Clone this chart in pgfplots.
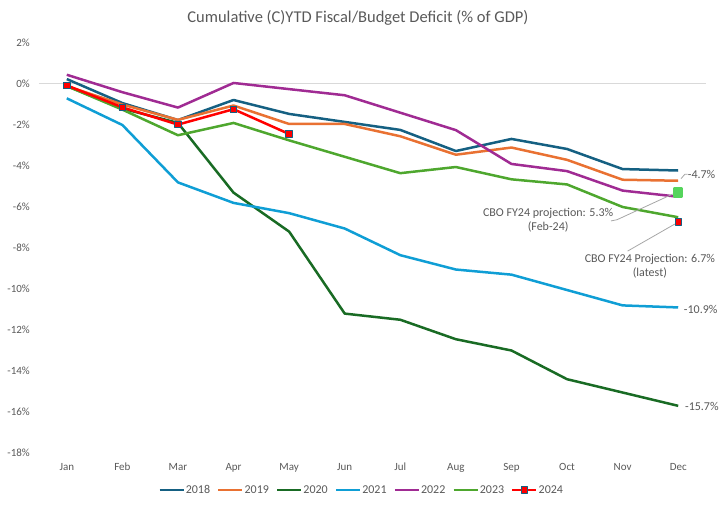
\documentclass[border=0pt]{standalone}
\usepackage{pgfplots}
\pgfplotsset{compat=1.18}
\usepackage{fontspec}
\setmainfont{Carlito}
\definecolor{c18}{HTML}{156082}
\definecolor{c19}{HTML}{E97132}
\definecolor{c20}{HTML}{196B24}
\definecolor{c21}{HTML}{0F9ED5}
\definecolor{c22}{HTML}{A02B93}
\definecolor{c23}{HTML}{4EA72E}
\definecolor{c24}{HTML}{FF0000}
\definecolor{cbo}{HTML}{55D45C}
\definecolor{txt}{HTML}{595959}
\definecolor{lead}{HTML}{A6A6A6}
\definecolor{zero}{HTML}{D9D9D9}
\begin{document}
\begin{tikzpicture}[x=1pt,y=1pt]
\useasboundingbox (0,0) rectangle (719,508);
\node[text=txt, font=\fontsize{16.5}{18}\selectfont] at (358,490) {Cumulative (C)YTD Fiscal/Budget Deficit (\% of GDP)};
\begin{axis}[
  at={(39pt,55pt)}, anchor=south west,
  scale only axis, width=667pt, height=410pt,
  xmin=-0.5, xmax=11.5, ymin=-18, ymax=2,
  axis line style={draw=none},
  major tick length=0pt,
  xtick={0,...,11},
  xticklabels={Jan,Feb,Mar,Apr,May,Jun,Jul,Aug,Sep,Oct,Nov,Dec},
  ytick={-18,-16,...,2},
  yticklabels={-18\%,-16\%,-14\%,-12\%,-10\%,-8\%,-6\%,-4\%,-2\%,0\%,2\%},
  tick label style={font=\fontsize{11}{13}\selectfont, text=txt, inner sep=0pt},
  yticklabel style={xshift=-9pt},
  xticklabel style={yshift=-10pt},
  legend style={at={(axis description cs:0.483,0)}, anchor=center, yshift=-37pt,
    draw=none, fill=none, font=\fontsize{12}{13}\selectfont, text=txt,
    legend columns=7, nodes={inner sep=1pt},
    /tikz/every even column/.append style={column sep=6pt}},
  legend cell align=left,
  legend image code/.code={\draw[mark repeat=2,mark phase=2,#1] plot coordinates {(0pt,0pt) (12pt,0pt) (24pt,0pt)};},
  every axis plot/.append style={line width=2.5pt, line join=round},
  clip=false,
]
\draw[zero, line width=1pt] (axis cs:-0.5,0) -- (axis cs:11.5,0);
\addplot[c18, no markers] coordinates {(0,0.24)(1,-0.93)(2,-1.76)(3,-0.78)(4,-1.46)(5,-1.85)(6,-2.24)(7,-3.27)(8,-2.68)(9,-3.17)(10,-4.15)(11,-4.22)};
\addlegendentry{2018}
\addplot[c19, no markers] coordinates {(0,-0.1)(1,-1.0)(2,-1.75)(3,-1.05)(4,-1.95)(5,-1.95)(6,-2.55)(7,-3.45)(8,-3.1)(9,-3.7)(10,-4.67)(11,-4.72)};
\addlegendentry{2019}
\addplot[c20, no markers] coordinates {(0,-0.1)(1,-1.2)(2,-1.9)(3,-5.3)(4,-7.2)(5,-11.2)(6,-11.5)(7,-12.45)(8,-13.0)(9,-14.4)(10,-15.05)(11,-15.7)};
\addlegendentry{2020}
\addplot[c21, no markers] coordinates {(0,-0.7)(1,-2.0)(2,-4.8)(3,-5.8)(4,-6.3)(5,-7.05)(6,-8.35)(7,-9.05)(8,-9.3)(9,-10.05)(10,-10.8)(11,-10.9)};
\addlegendentry{2021}
\addplot[c22, no markers] coordinates {(0,0.45)(1,-0.4)(2,-1.15)(3,0.05)(4,-0.25)(5,-0.55)(6,-1.4)(7,-2.25)(8,-3.9)(9,-4.25)(10,-5.2)(11,-5.5)};
\addlegendentry{2022}
\addplot[c23, no markers] coordinates {(0,-0.1)(1,-1.25)(2,-2.5)(3,-1.9)(4,-2.75)(5,-3.55)(6,-4.35)(7,-4.05)(8,-4.65)(9,-4.9)(10,-6.0)(11,-6.5)};
\addlegendentry{2023}
\addplot[c24, mark=square*, mark size=3.3pt, mark options={fill=c24, draw=c18, line width=0.8pt}] coordinates {(0,-0.07)(1,-1.14)(2,-1.98)(3,-1.23)(4,-2.44)};
\addlegendentry{2024}
\addplot[forget plot, only marks, mark=square*, mark size=4pt, mark options={fill=cbo, draw=cbo}] coordinates {(11,-5.3)};
\addplot[forget plot, only marks, mark=square*, mark size=3.3pt, mark options={fill=c24, draw=c18, line width=0.8pt}] coordinates {(11,-6.73)};
% leaders and labels
\draw[lead, line width=0.8pt] (axis cs:11.05,-4.62) -- (axis cs:11.12,-4.4) -- (axis cs:11.17,-4.4);
\node[anchor=west, text=txt, font=\fontsize{12}{13}\selectfont, inner sep=0pt] at (axis cs:11.17,-4.4) {-4.7\%};
\node[anchor=west, text=txt, font=\fontsize{12}{13}\selectfont, inner sep=0pt] at (axis cs:11.10,-10.98) {-10.9\%};
\node[anchor=west, text=txt, font=\fontsize{12}{13}\selectfont, inner sep=0pt] at (axis cs:11.12,-15.75) {-15.7\%};
\draw[lead, line width=0.8pt] (axis cs:9.79,-6.68) -- (axis cs:9.90,-6.62) -- (axis cs:10.90,-5.37);
\node[align=center, text=txt, font=\fontsize{12}{14}\selectfont, inner sep=0pt] at (axis cs:8.66,-6.66) {CBO FY24 projection: 5.3\%\\(Feb-24)};
\draw[lead, line width=0.8pt] (axis cs:10.09,-8.15) -- (axis cs:10.94,-6.83);
\node[align=center, text=txt, font=\fontsize{12}{14}\selectfont, inner sep=0pt] at (axis cs:10.49,-8.9) {CBO FY24 Projection: 6.7\%\\(latest)};
\end{axis}
\end{tikzpicture}
\end{document}
